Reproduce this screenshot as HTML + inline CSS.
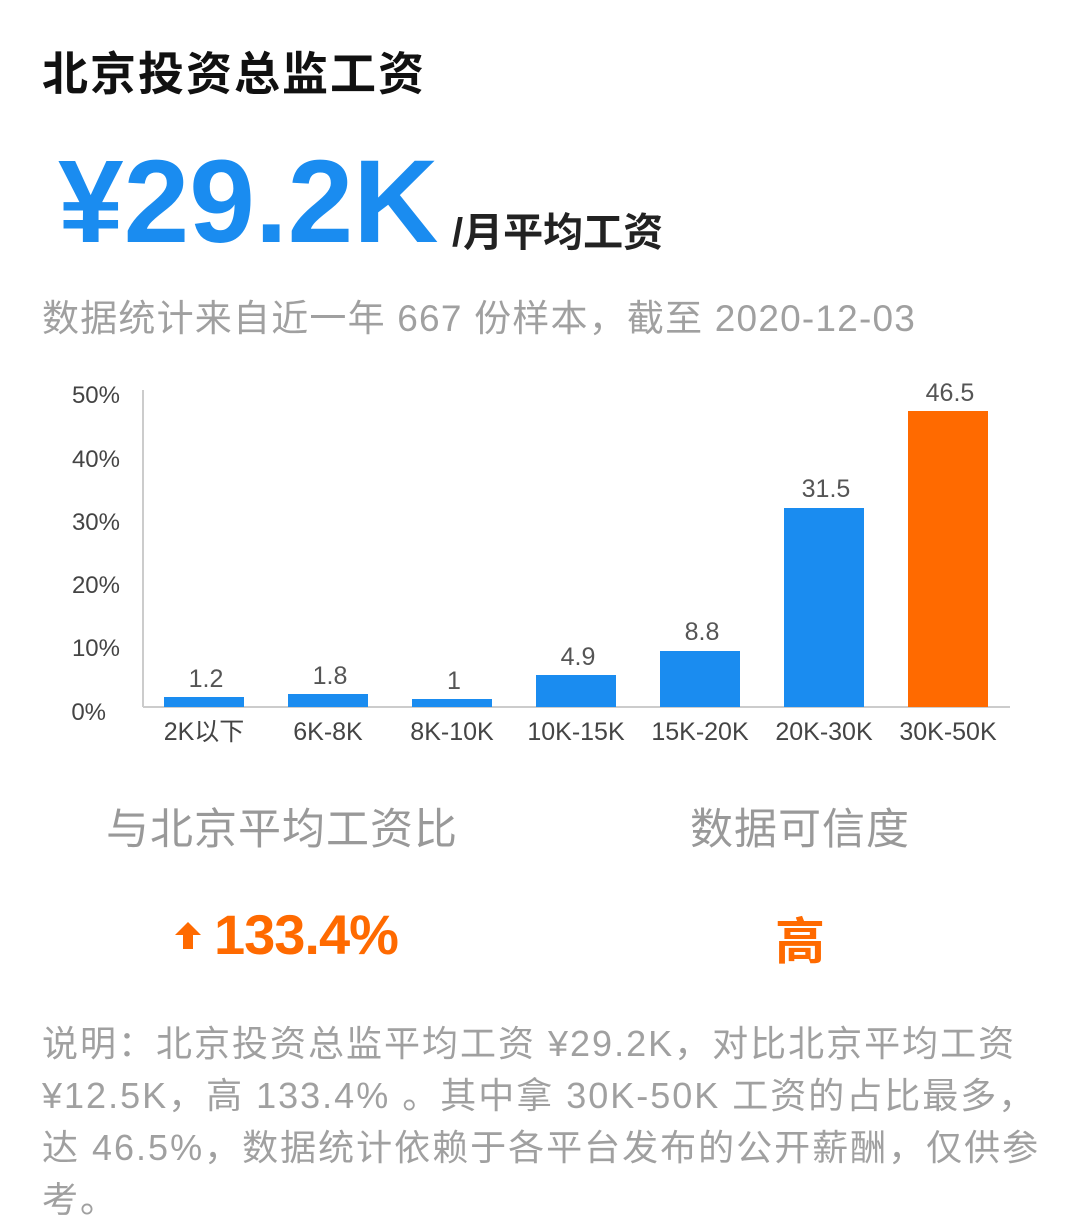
<!DOCTYPE html>
<html><head><meta charset="utf-8"><style>
body{margin:0;width:1080px;height:1228px;background:#fff;font-family:"Liberation Sans","Noto Sans CJK SC",sans-serif;position:relative;overflow:hidden}
.a{position:absolute;white-space:nowrap}
</style></head><body>
<div class="a" style="left:42px;top:38px;font-size:46px;font-weight:bold;color:#111;letter-spacing:2px">北京投资总监工资</div>
<div class="a" style="left:58px;top:134px;font-size:118px;color:#1a8cf0;font-weight:bold;letter-spacing:0px">¥29.2K</div>
<div class="a" style="left:452px;top:200px;font-size:40px;font-weight:bold;color:#222">/月平均工资</div>
<div class="a" style="left:42px;top:288px;font-size:37px;color:#a0a0a0;letter-spacing:1.2px">数据统计来自近一年 667 份样本，截至 2020-12-03</div>
<svg class="a" style="left:0;top:370px" width="1080" height="390">
<g font-family="Liberation Sans" font-size="24" fill="#444" text-anchor="end">
<text x="120" y="33">50%</text><text x="120" y="97">40%</text><text x="120" y="160">30%</text>
<text x="120" y="223">20%</text><text x="120" y="286">10%</text><text x="106" y="350">0%</text></g>
<line x1="143" y1="20" x2="143" y2="337" stroke="#ccc" stroke-width="2"/>
<line x1="143" y1="337" x2="1010" y2="337" stroke="#ccc" stroke-width="2"/>
<g fill="#1a8cf0">
<rect x="164" y="327" width="80" height="10"/><rect x="288" y="324" width="80" height="13"/>
<rect x="412" y="329" width="80" height="8"/><rect x="536" y="305" width="80" height="32"/>
<rect x="660" y="281" width="80" height="56"/><rect x="784" y="138" width="80" height="199"/></g>
<rect x="908" y="41" width="80" height="296" fill="#ff6a00"/>
<g font-family="Liberation Sans" font-size="25" fill="#555" text-anchor="middle">
<text x="206" y="317">1.2</text><text x="330" y="314">1.8</text><text x="454" y="319">1</text>
<text x="578" y="295">4.9</text><text x="702" y="270">8.8</text><text x="826" y="127">31.5</text><text x="950" y="31">46.5</text></g>
<g font-family="Liberation Sans,Noto Sans CJK SC" font-size="25" fill="#444" text-anchor="middle">
<text x="204" y="370">2K以下</text><text x="328" y="370">6K-8K</text><text x="452" y="370">8K-10K</text>
<text x="576" y="370">10K-15K</text><text x="700" y="370">15K-20K</text><text x="824" y="370">20K-30K</text><text x="948" y="370">30K-50K</text></g>
</svg>
<div class="a" style="left:106px;top:795px;font-size:43px;color:#999;letter-spacing:1px">与北京平均工资比</div>
<div class="a" style="left:690px;top:795px;font-size:43px;color:#999;letter-spacing:1px">数据可信度</div>
<svg class="a" style="left:174px;top:922px" width="28" height="28"><polygon points="14,0 27,13 19,13 19,27 9,27 9,13 1,13" fill="#ff6a00"/></svg>
<div class="a" style="left:214px;top:902px;font-size:56px;font-weight:bold;color:#ff6a00;letter-spacing:-1px">133.4%</div>
<div class="a" style="left:775px;top:902px;font-size:50px;font-weight:bold;color:#ff6a00">高</div>
<div class="a" style="left:42px;top:1018px;font-size:36px;line-height:52px;color:#a0a0a0;letter-spacing:2px">说明：北京投资总监平均工资 ¥29.2K，对比北京平均工资<br>¥12.5K，高 133.4% 。其中拿 30K-50K 工资的占比最多，<br>达 46.5%，数据统计依赖于各平台发布的公开薪酬，仅供参<br>考。</div>
</body></html>
